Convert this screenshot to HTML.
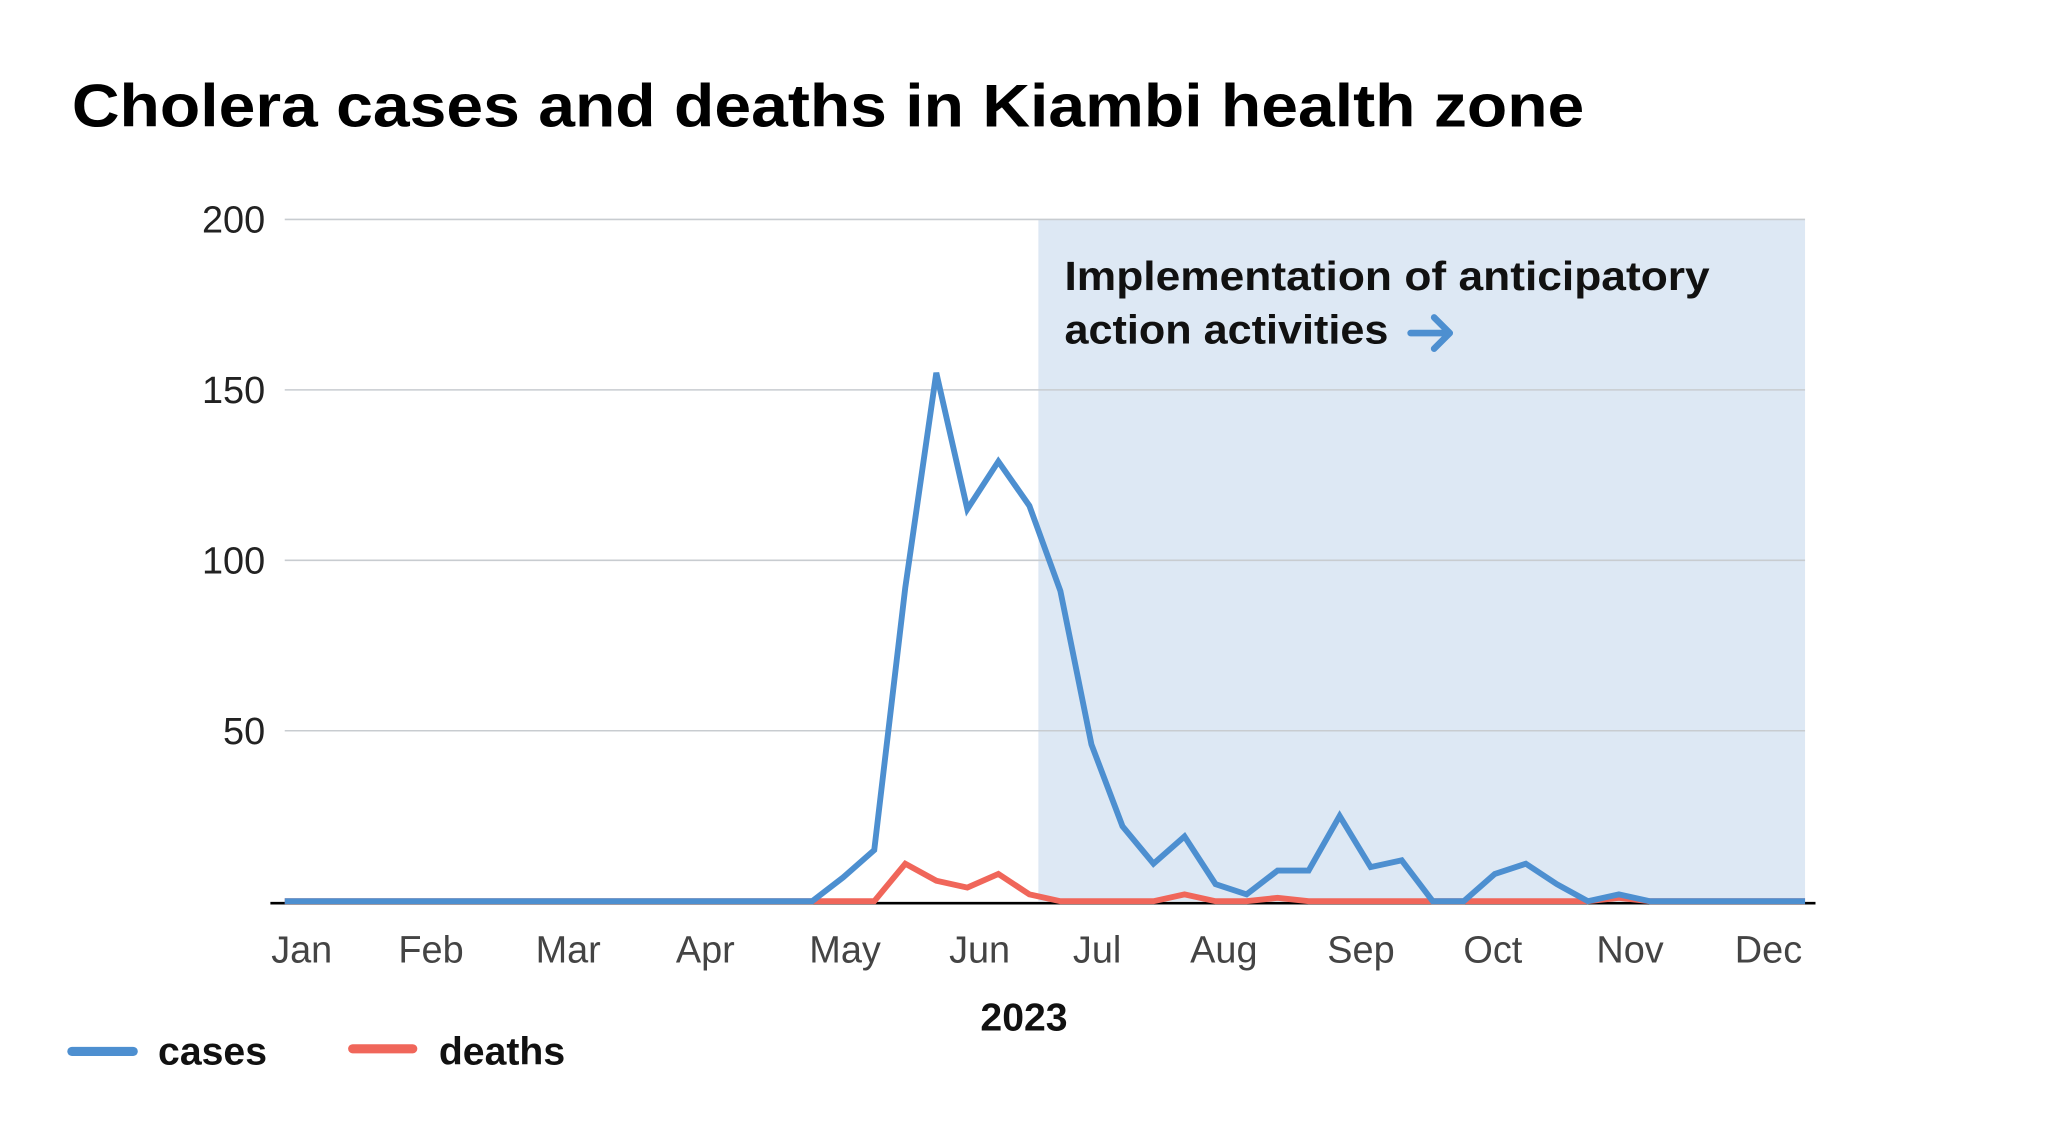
<!DOCTYPE html>
<html><head><meta charset="utf-8"><style>
html,body{margin:0;padding:0;background:#fff;}
svg{display:block;font-family:"Liberation Sans",sans-serif;}
</style></head><body>
<svg id="chart" width="2048" height="1138" viewBox="0 0 1568 871.3" xmlns="http://www.w3.org/2000/svg">
<text x="55" y="97" font-size="46" font-weight="bold" fill="#000" textLength="1158" lengthAdjust="spacingAndGlyphs">Cholera cases and deaths in Kiambi health zone</text>
<rect x="795" y="168" width="587" height="522" fill="#dde8f4"/>
<g id="grid"></g>
<g id="yticks"></g>
<g id="xticks"></g>
<line x1="207" y1="691.5" x2="1390" y2="691.5" stroke="#000" stroke-width="2"/>
<g id="series"></g>
<text font-size="31" font-weight="bold" fill="#111">
<tspan x="815" y="222" textLength="494" lengthAdjust="spacingAndGlyphs">Implementation of anticipatory</tspan>
<tspan x="815" y="263" textLength="248" lengthAdjust="spacingAndGlyphs">action activities</tspan></text>
<path d="M1080 255 L1108 255 M1098 243 L1110 255 L1098 267" fill="none" stroke="#4d8fd0" stroke-width="5" stroke-linecap="round" stroke-linejoin="round"/>
<text x="784" y="789" font-size="30" font-weight="bold" fill="#111" text-anchor="middle">2023</text>
<g>
<line x1="55" y1="805" x2="102" y2="805" stroke="#4d8fd0" stroke-width="7" stroke-linecap="round"/>
<text x="121" y="815" font-size="30" font-weight="bold" fill="#111">cases</text>
<line x1="270" y1="803" x2="316" y2="803" stroke="#f0665a" stroke-width="7" stroke-linecap="round"/>
<text x="336" y="815" font-size="30" font-weight="bold" fill="#111">deaths</text>
</g>
</svg>
<script>
const yTicks=[50,100,150,200];
const months=["Jan","Feb","Mar","Apr","May","Jun","Jul","Aug","Sep","Oct","Nov","Dec"];
const monthPos=[231,330,435,540,647,750,840,937,1042,1143,1248,1354];
const cases=[0,0,0,0,0,0,0,0,0,0,0,0,0,0,0,0,0,0,7,15,92,155,115,129,116,91,46,22,11,19,5,2,9,9,25,10,12,0,0,8,11,5,0,2,0,0,0,0,0,0];
const deaths=[0,0,0,0,0,0,0,0,0,0,0,0,0,0,0,0,0,0,0,0,11,6,4,8,2,0,0,0,0,2,0,0,1,0,0,0,0,0,0,0,0,0,0,1,0,0,0,0,0,0];
const NS="http://www.w3.org/2000/svg";
const x0=218,x1=1382,y0=690,y1=168,yMax=200;
const xs=i=>x0+i*(x1-x0)/(cases.length-1);
const ys=v=>y0-(v/yMax)*(y0-y1);
const grid=document.getElementById('grid'),yt=document.getElementById('yticks'),xt=document.getElementById('xticks'),se=document.getElementById('series');
yTicks.forEach(v=>{
 const l=document.createElementNS(NS,'line');
 l.setAttribute('x1',218);l.setAttribute('x2',1382);l.setAttribute('y1',ys(v));l.setAttribute('y2',ys(v));
 l.setAttribute('stroke','#c8ccd0');l.setAttribute('stroke-width','1.2');
 
 
 grid.appendChild(l);
 const t=document.createElementNS(NS,'text');
 t.setAttribute('x',203);t.setAttribute('y',ys(v)+10);t.setAttribute('text-anchor','end');
 t.setAttribute('font-size','29');t.setAttribute('fill','#222');t.textContent=v;
 
 
 yt.appendChild(t);
});
months.forEach((m,i)=>{
 const t=document.createElementNS(NS,'text');
 t.setAttribute('x',monthPos[i]);t.setAttribute('y',737);t.setAttribute('text-anchor','middle');
 t.setAttribute('font-size','29');t.setAttribute('fill','#444');t.textContent=m;
 
 
 xt.appendChild(t);
});
function line(arr,color,name){
 const p=document.createElementNS(NS,'polyline');
 p.setAttribute('points',arr.map((v,i)=>xs(i)+','+ys(v)).join(' '));
 p.setAttribute('fill','none');p.setAttribute('stroke',color);p.setAttribute('stroke-width','4.5');
 p.setAttribute('stroke-linejoin','miter');
 
 
 se.appendChild(p);
}
line(deaths,'#f0665a','deaths-line');
line(cases,'#4d8fd0','cases-line');
</script>
</body></html>
